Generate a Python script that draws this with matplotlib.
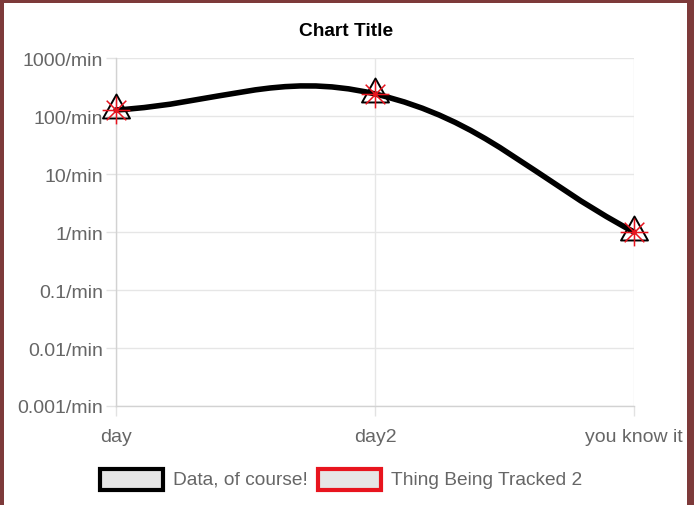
import numpy as np
import matplotlib
matplotlib.use("Agg")
import matplotlib.pyplot as plt
from matplotlib.path import Path
from matplotlib.patches import PathPatch, Rectangle

plt.rcParams['font.family'] = ['Liberation Sans', 'DejaVu Sans']

# data
categories = ["day", "day2", "you know it"]
data_main = [127, 240, 1]        # "Data, of course!"
data_tracked = [127, 240, 1]     # "Thing Being Tracked 2"
tick_values = [0.001, 0.01, 0.1, 1, 10, 100, 1000]
tick_labels = ["0.001/min", "0.01/min", "0.1/min", "1/min", "10/min", "100/min", "1000/min"]
legend_labels = ["Data, of course!", "Thing Being Tracked 2"]

W, H = 694, 506
fig = plt.figure(figsize=(W / 100, H / 100), dpi=100)
ax = fig.add_axes([116 / W, 1 - 407 / H, (634 - 116) / W, (407 - 59) / H])

x = np.arange(len(categories))
ax.set_yscale('log')
ax.set_ylim(0.001, 1000)
ax.set_xlim(0, len(categories) - 1)

# chart.js style spline (tension 0.4), worked out in pixel-ish space
kx, ky = 259.0, 58.0
def spline_path(vals, tension=0.4):
    px = x * kx
    py = np.log10(vals) * ky
    pts = np.column_stack([px, py])
    n = len(pts)
    cps = []
    for i in range(n):
        prev = pts[max(i - 1, 0)]
        cur = pts[i]
        nxt = pts[min(i + 1, n - 1)]
        d01 = np.hypot(*(cur - prev))
        d12 = np.hypot(*(nxt - cur))
        s01 = d01 / (d01 + d12) if d01 + d12 else 0
        s12 = d12 / (d01 + d12) if d01 + d12 else 0
        cps.append((cur - tension * s01 * (nxt - prev), cur + tension * s12 * (nxt - prev)))
    verts = [pts[0]]
    codes = [Path.MOVETO]
    for i in range(1, n):
        verts += [cps[i - 1][1], cps[i][0], pts[i]]
        codes += [Path.CURVE4] * 3
    verts = np.array(verts)
    verts = np.column_stack([verts[:, 0] / kx, 10 ** (verts[:, 1] / ky)])
    return Path(verts, codes)

ax.add_patch(PathPatch(spline_path(data_tracked), facecolor='none', edgecolor='#e8141e',
                       linewidth=2, zorder=2, clip_on=False))
ax.add_patch(PathPatch(spline_path(data_main), facecolor='none', edgecolor='black',
                       linewidth=4, zorder=3, capstyle='round', joinstyle='round',
                       clip_on=False))

# triangle centred on its centroid, like chart.js
tri = Path([(0, 16), (-13.5, -8), (13.5, -8), (0, 16)],
           [Path.MOVETO, Path.LINETO, Path.LINETO, Path.CLOSEPOLY])
ax.plot(x, data_main, linestyle='none', marker=tri, markersize=23, markerfacecolor='none',
        markeredgecolor='black', markeredgewidth=1.4, zorder=4, clip_on=False)

# star = cross + rotated cross
a = np.deg2rad(np.arange(0, 180, 45))
star_verts = []
star_codes = []
for t in a:
    star_verts += [(np.cos(t), np.sin(t)), (-np.cos(t), -np.sin(t))]
    star_codes += [Path.MOVETO, Path.LINETO]
star = Path(star_verts, star_codes)
ax.plot(x, data_tracked, linestyle='none', marker=star, markersize=20,
        markeredgecolor='#e8141e', markerfacecolor='none', markeredgewidth=1.1, zorder=5,
        clip_on=False)

ax.set_xticks(x)
ax.set_xticklabels(categories)
ax.set_yticks(tick_values)
ax.set_yticklabels(tick_labels)
ax.yaxis.set_minor_locator(matplotlib.ticker.NullLocator())
ax.tick_params(axis='both', colors='#e2e2e2', labelcolor='#666666', labelsize=14,
               length=7.5, width=1, pad=2)
ax.tick_params(axis='x', pad=8)
ax.grid(True, color='#e6e6e6', linewidth=1, zorder=0)
ax.set_axisbelow(True)
for s in ['top', 'right']:
    ax.spines[s].set_visible(False)
for s in ['left', 'bottom']:
    ax.spines[s].set_color('#d2d2d2')
    ax.spines[s].set_linewidth(1)

fig.text(346 / W, 1 - 31 / H, "Chart Title", ha='center', va='center',
         fontsize=13.8, fontweight='bold', color='black')

# legend drawn by hand
def px_rect(x0, y0, w, h, **kw):
    return Rectangle((x0 / W, 1 - (y0 + h) / H), w / W, h / H, transform=fig.transFigure, **kw)

leg_colors = ['black', '#e8141e']
box_x = [100, 318]
for bx, col, lab in zip(box_x, leg_colors, legend_labels):
    fig.add_artist(px_rect(bx, 470, 63, 21, facecolor='#e6e6e6', edgecolor=col, linewidth=3))
    fig.text((bx + 73) / W, 1 - 480.5 / H, lab, ha='left', va='center',
             fontsize=13.8, color='#666666')

# dark red frame
frame = '#7d3a3a'
fig.add_artist(px_rect(0, 0, 4, H, facecolor=frame, edgecolor='none'))
fig.add_artist(px_rect(0, 0, W, 4, facecolor=frame, edgecolor='none'))
fig.add_artist(px_rect(687, 0, 7, H, facecolor=frame, edgecolor='none'))

fig.savefig("out.png", dpi=100)
